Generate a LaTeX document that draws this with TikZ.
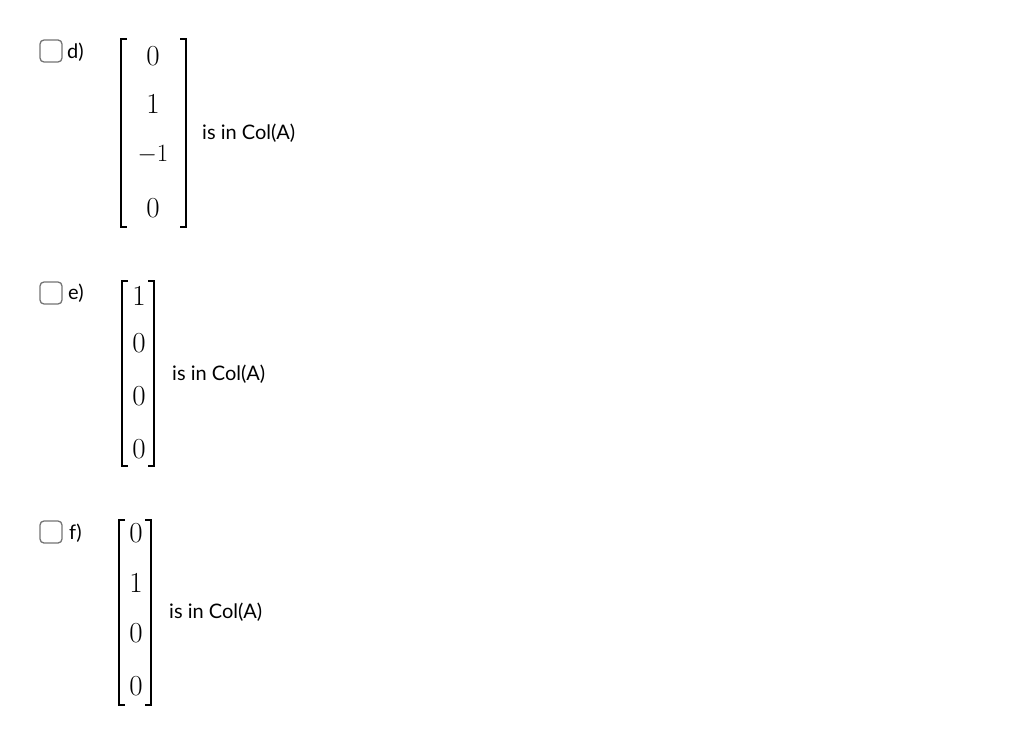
\documentclass[tikz,border=0pt]{standalone}
\usepackage{fontspec}
\newfontfamily\lato{Lato}
\begin{document}
\begin{tikzpicture}[x=1pt,y=-1pt,
  box/.style={draw=black!55,line width=1.3pt,rounded corners=4pt,minimum width=22pt,minimum height=22pt,inner sep=0pt},
  lbl/.style={font=\lato\fontsize{20}{22}\selectfont,anchor=west,inner sep=0pt},
  ent/.style={font=\fontsize{29}{30}\selectfont,inner sep=0pt},
  brk/.style={line width=2.6pt}]
\useasboundingbox (0,0) rectangle (1024,743);
% d
\node[box] (cd) at (51,51) {};
\node[lbl] (ld) at (67,52) {d)};
\draw[brk] (127,39) -- (121,39) -- (121,227) -- (127,227);
\draw[brk] (180,39) -- (186,39) -- (186,227) -- (180,227);
\node[ent] (d1) at (153,56) {0};
\node[ent] (d2) at (153,104) {1};
\node[ent] (d3) at (153,155) {$-1$};
\node[ent] (d4) at (153,208) {0};
\node[lbl] (td) at (202,133) {is in Col(A)};
% e
\node[box] (ce) at (51,293) {};
\node[lbl] (le) at (68,293) {e)};
\draw[brk] (128,281) -- (122,281) -- (122,466) -- (128,466);
\draw[brk] (148,281) -- (154,281) -- (154,466) -- (148,466);
\node[ent] (e1) at (139,296) {1};
\node[ent] (e2) at (139,343) {0};
\node[ent] (e3) at (139,396) {0};
\node[ent] (e4) at (139,449) {0};
\node[lbl] (te) at (172,374) {is in Col(A)};
% f
\node[box] (cf) at (51,532) {};
\node[lbl] (lf) at (69,533) {f)};
\draw[brk] (125,520) -- (119,520) -- (119,705) -- (125,705);
\draw[brk] (145,520) -- (151,520) -- (151,705) -- (145,705);
\node[ent] (f1) at (136,533) {0};
\node[ent] (f2) at (136,583) {1};
\node[ent] (f3) at (136,633) {0};
\node[ent] (f4) at (136,686) {0};
\node[lbl] (tf) at (169,612) {is in Col(A)};
\end{tikzpicture}
\end{document}
